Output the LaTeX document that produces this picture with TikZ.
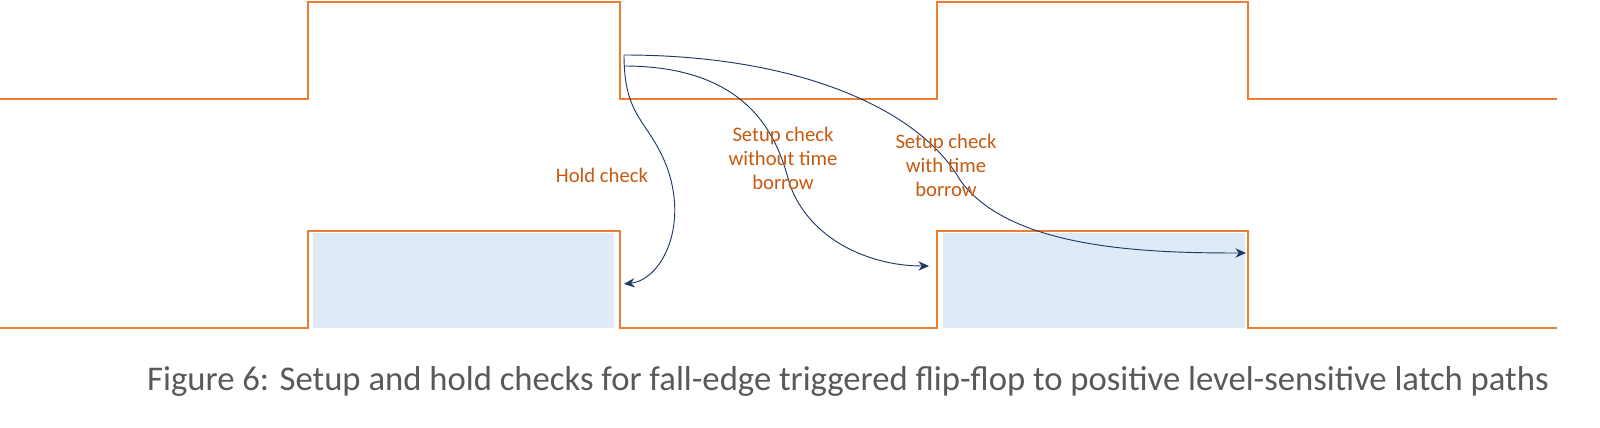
\documentclass[tikz,border=0pt]{standalone}
\usepackage{fontspec}
\setmainfont{Carlito}
\usetikzlibrary{arrows.meta}
\definecolor{wave}{HTML}{ED7D31}
\definecolor{lbl}{HTML}{C55A11}
\definecolor{arr}{HTML}{1F3864}
\definecolor{fillb}{HTML}{DEEAF6}
\begin{document}
\begin{tikzpicture}[x=0.75pt,y=-0.75pt,
  wv/.style={draw=wave,line width=0.8pt},
  ck/.style={draw=arr,line width=0.7pt,-{Stealth[length=8pt,width=7pt]}},
  lab/.style={text=lbl,font=\fontsize{15.5}{18}\selectfont,align=center}]
\useasboundingbox (0,0) rectangle (1600,428);
% shaded latch windows
\fill[fillb] (313,233) rectangle (614,328);
\fill[fillb] (943,233) rectangle (1245,328);
% clock waveforms
\draw[wv] (0,99) -- (308,99) -- (308,2) -- (620,2) -- (620,99) -- (937,99) -- (937,2) -- (1248,2) -- (1248,99) -- (1557,99);
\draw[wv] (0,328) -- (308,328) -- (308,231) -- (620,231) -- (620,328) -- (937,328) -- (937,231) -- (1248,231) -- (1248,328) -- (1557,328);
% check arrows
\coordinate (src) at (624,55);
\coordinate (h) at (624,284);
\coordinate (s1) at (929,266);
\coordinate (s2) at (1246,253);
\draw[ck] (src) .. controls (624,120) and (650,120) .. (668,170) .. controls (688,230) and (660,280) .. (h);
\draw[ck] (624,66) .. controls (760,66) and (780,150) .. (790,185) .. controls (810,240) and (870,266) .. (s1);
\draw[ck] (src) .. controls (800,55) and (920,110) .. (960,180) .. controls (1010,250) and (1150,253) .. (s2);
% labels
\node[lab] (lh) at (602,175) {Hold check};
\node[lab] (l1) at (783,158) {Setup check\\without time\\borrow};
\node[lab] (l2) at (946,165) {Setup check\\with time\\borrow};
\node[text=black!65,font=\fontsize{26}{30}\selectfont] (cap) at (848,381) {Figure 6: Setup and hold checks for fall-edge triggered flip-flop to positive level-sensitive latch paths};
\end{tikzpicture}
\end{document}
